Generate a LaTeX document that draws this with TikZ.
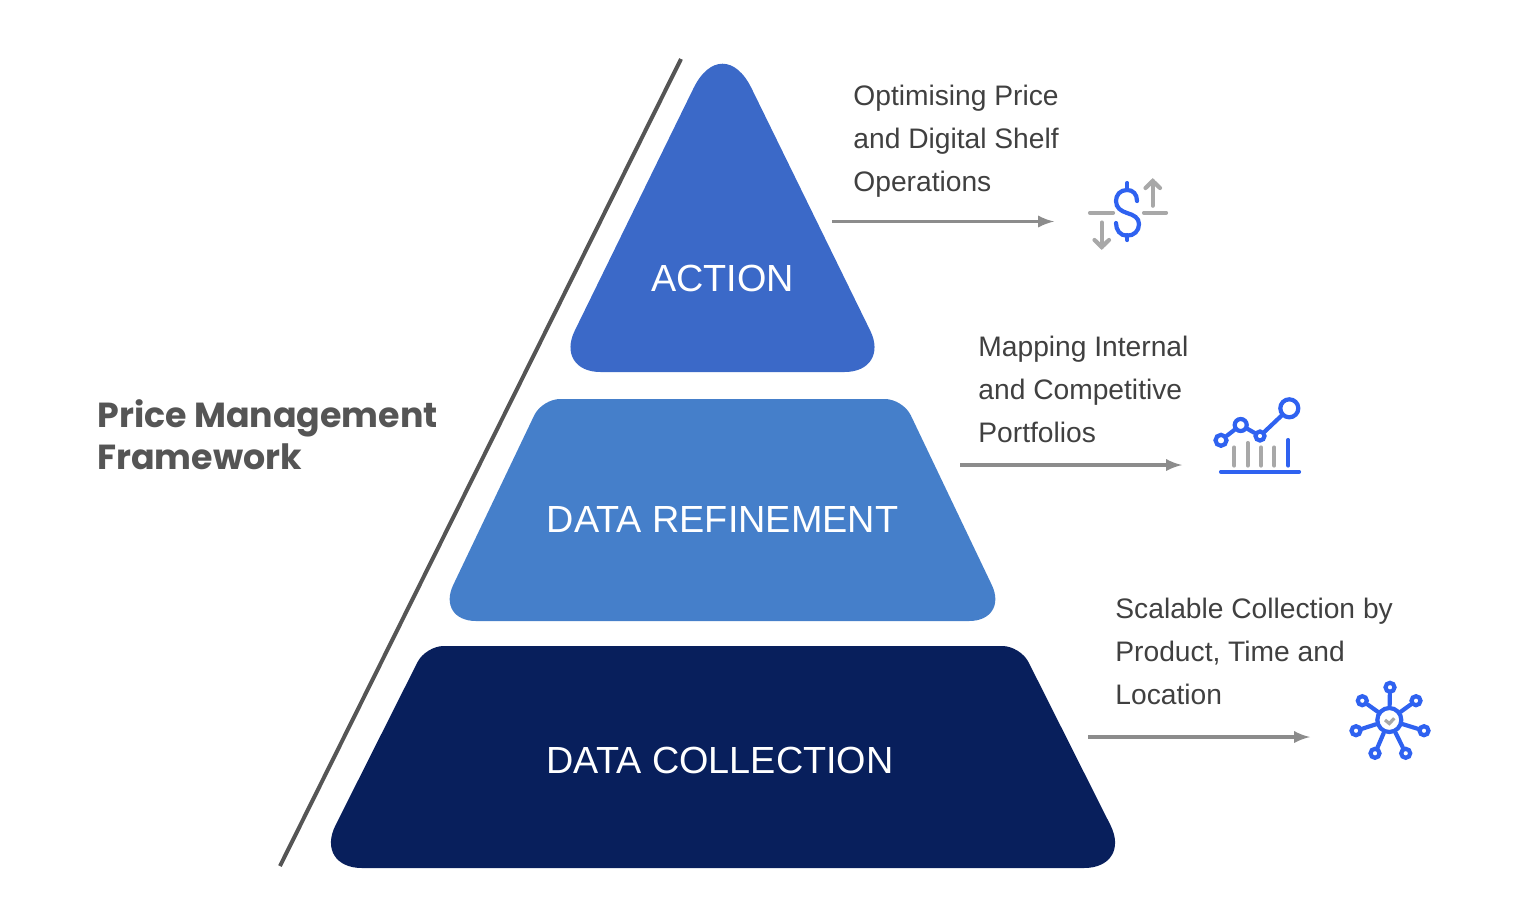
\documentclass[tikz,border=0pt]{standalone}
\usepackage{fontspec}
\setmainfont{Liberation Sans}
\newfontfamily\headfont{Poppins}
\usepackage{xcolor}
\usetikzlibrary{arrows}
\definecolor{actionblue}{HTML}{3B69C8}
\definecolor{refineblue}{HTML}{457FCA}
\definecolor{collectblue}{HTML}{081F5C}
\definecolor{iconblue}{HTML}{2F62F0}
\definecolor{icongray}{HTML}{A8A8A8}
\definecolor{arrowgray}{HTML}{8C8C8C}
\definecolor{textgray}{HTML}{404040}
\definecolor{railgray}{HTML}{555555}
\begin{document}
\begin{tikzpicture}[
x=0.5pt,
y=-0.5pt,
levellabel/.style={
  text=white,
  inner sep=0pt,
  font=\fontsize{18.9}{24}\selectfont
  },
note/.style={
  anchor=north west,
  align=left,
  inner sep=0pt,
  text=textgray,
  font=\fontsize{14.1}{21.5}\selectfont
  },
pointer/.style={
  ->,
  draw=arrowgray,
  line width=1.7pt
  },
bluestroke/.style={
  draw=iconblue,
  line width=2.1pt,
  line cap=round
  },
graystroke/.style={
  draw=icongray,
  line width=2.1pt,
  line cap=round
  },
ring/.style={
  circle,
  draw=iconblue,
  line width=2.1pt,
  fill=white,
  inner sep=0pt,
  minimum size=#1
  },
>=latex
]
\useasboundingbox (0,0) rectangle (1536,922);
% pyramid
\fill[actionblue] (722.5,372) [rounded corners=23pt] -- (554.5,372) [rounded corners=33pt] -- (722.5,29) [rounded corners=23pt] -- (890.5,372) -- cycle;
\fill[refineblue] (722.5,399) [rounded corners=9pt] -- (903,399) [rounded corners=20pt] -- (1009,621) -- (436,621) [rounded corners=9pt] -- (542,399) -- cycle;
\fill[collectblue] (723,646) [rounded corners=9pt] -- (1020.4,646) [rounded corners=24pt] -- (1132,868) -- (314,868) [rounded corners=9pt] -- (425.6,646) -- cycle;
\node[levellabel] (action) at (722.5,278) {ACTION};
\node[levellabel] (refine) at (722.5,519) {DATA REFINEMENT};
\node[levellabel] (collect) at (720,760) {DATA COLLECTION};
% side rail and title
\coordinate (railtop) at (681,59);
\coordinate (railbot) at (280,866);
\draw[draw=railgray,line width=2pt] (railtop) -- (railbot);
\node[anchor=north west,align=left,inner sep=0pt,text=railgray,font=\headfont\bfseries\fontsize{17.4}{21}\selectfont] (title) at (97,399) {Price Management\\Framework};
% notes
\node[note] (note1) at (853,85) {Optimising Price\\and Digital Shelf\\Operations};
\node[note] (note2) at (978,336) {Mapping Internal\\and Competitive\\Portfolios};
\node[note] (note3) at (1115,597.5) {Scalable Collection by\\Product, Time and\\Location};
\foreach \nm/\xa/\ya in {1/832/221.5,2/960/465,3/1088/737}
{
  \coordinate (from\nm) at (\xa,\ya);
  \coordinate (to\nm) at (\xa+222,\ya);
  \draw[pointer] (from\nm) -- (to\nm);
}
% dollar icon
\draw[graystroke] (1090,212.7) -- (1113,212.7);
\draw[graystroke] (1144,212.7) -- (1166,212.7);
\draw[graystroke] (1152.7,205.7) -- (1152.7,181);
\draw[graystroke] (1145.5,188) -- (1152.7,181) -- (1160,188);
\draw[graystroke] (1101.7,222.5) -- (1101.7,247);
\draw[graystroke] (1094.5,240) -- (1101.7,247) -- (1109,240);
\draw[bluestroke] (1127.3,183) -- (1127.3,189);
\draw[bluestroke] (1127.3,235) -- (1127.3,240);
\draw[bluestroke] (1137,201) .. controls (1137,194) and (1133,190) .. (1127,190)
  .. controls (1120,190) and (1116,195) .. (1116,201)
  .. controls (1116,208) and (1121,211) .. (1127,213)
  .. controls (1134,215) and (1139,218) .. (1139,224)
  .. controls (1139,231) and (1134,235.7) .. (1127,235.7)
  .. controls (1120,235.7) and (1116,230) .. (1116,223);
% chart icon
\foreach \xb/\yb in {1234.3/447.5,1247.7/443,1261/447.5,1274.3/447.5}
  \draw[graystroke] (\xb,\yb) -- (\xb,465.5);
\draw[bluestroke] (1288.3,440) -- (1288.3,465.5);
\draw[bluestroke] (1221,471.7) -- (1299,471.7);
\node[ring=5.5pt] (pt1) at (1221,440.3) {};
\node[ring=6pt] (pt2) at (1240.7,425) {};
\node[ring=4.5pt] (pt3) at (1260,436) {};
\node[ring=9pt] (pt4) at (1289.3,408.3) {};
\foreach \pa/\pb in {1/2,2/3,3/4}
  \draw[bluestroke] (pt\pa) -- (pt\pb);
% network icon
\node[ring=12pt] (hub) at (1389.3,720) {};
\foreach \lf/\xc/\yc in {a/1390/687.3,b/1416/700.7,c/1424/730.7,d/1405.7/753.3,e/1375/753.3,f/1356/730.7,g/1362.3/700.7}
{
  \node[ring=4.5pt] (leaf\lf) at (\xc,\yc) {};
  \draw[bluestroke] (hub) -- (leaf\lf);
}
\draw[draw=icongray,line width=1.6pt] (1385,720) -- (1389.3,723.5) -- (1394.3,718.3);
\end{tikzpicture}
\end{document}
